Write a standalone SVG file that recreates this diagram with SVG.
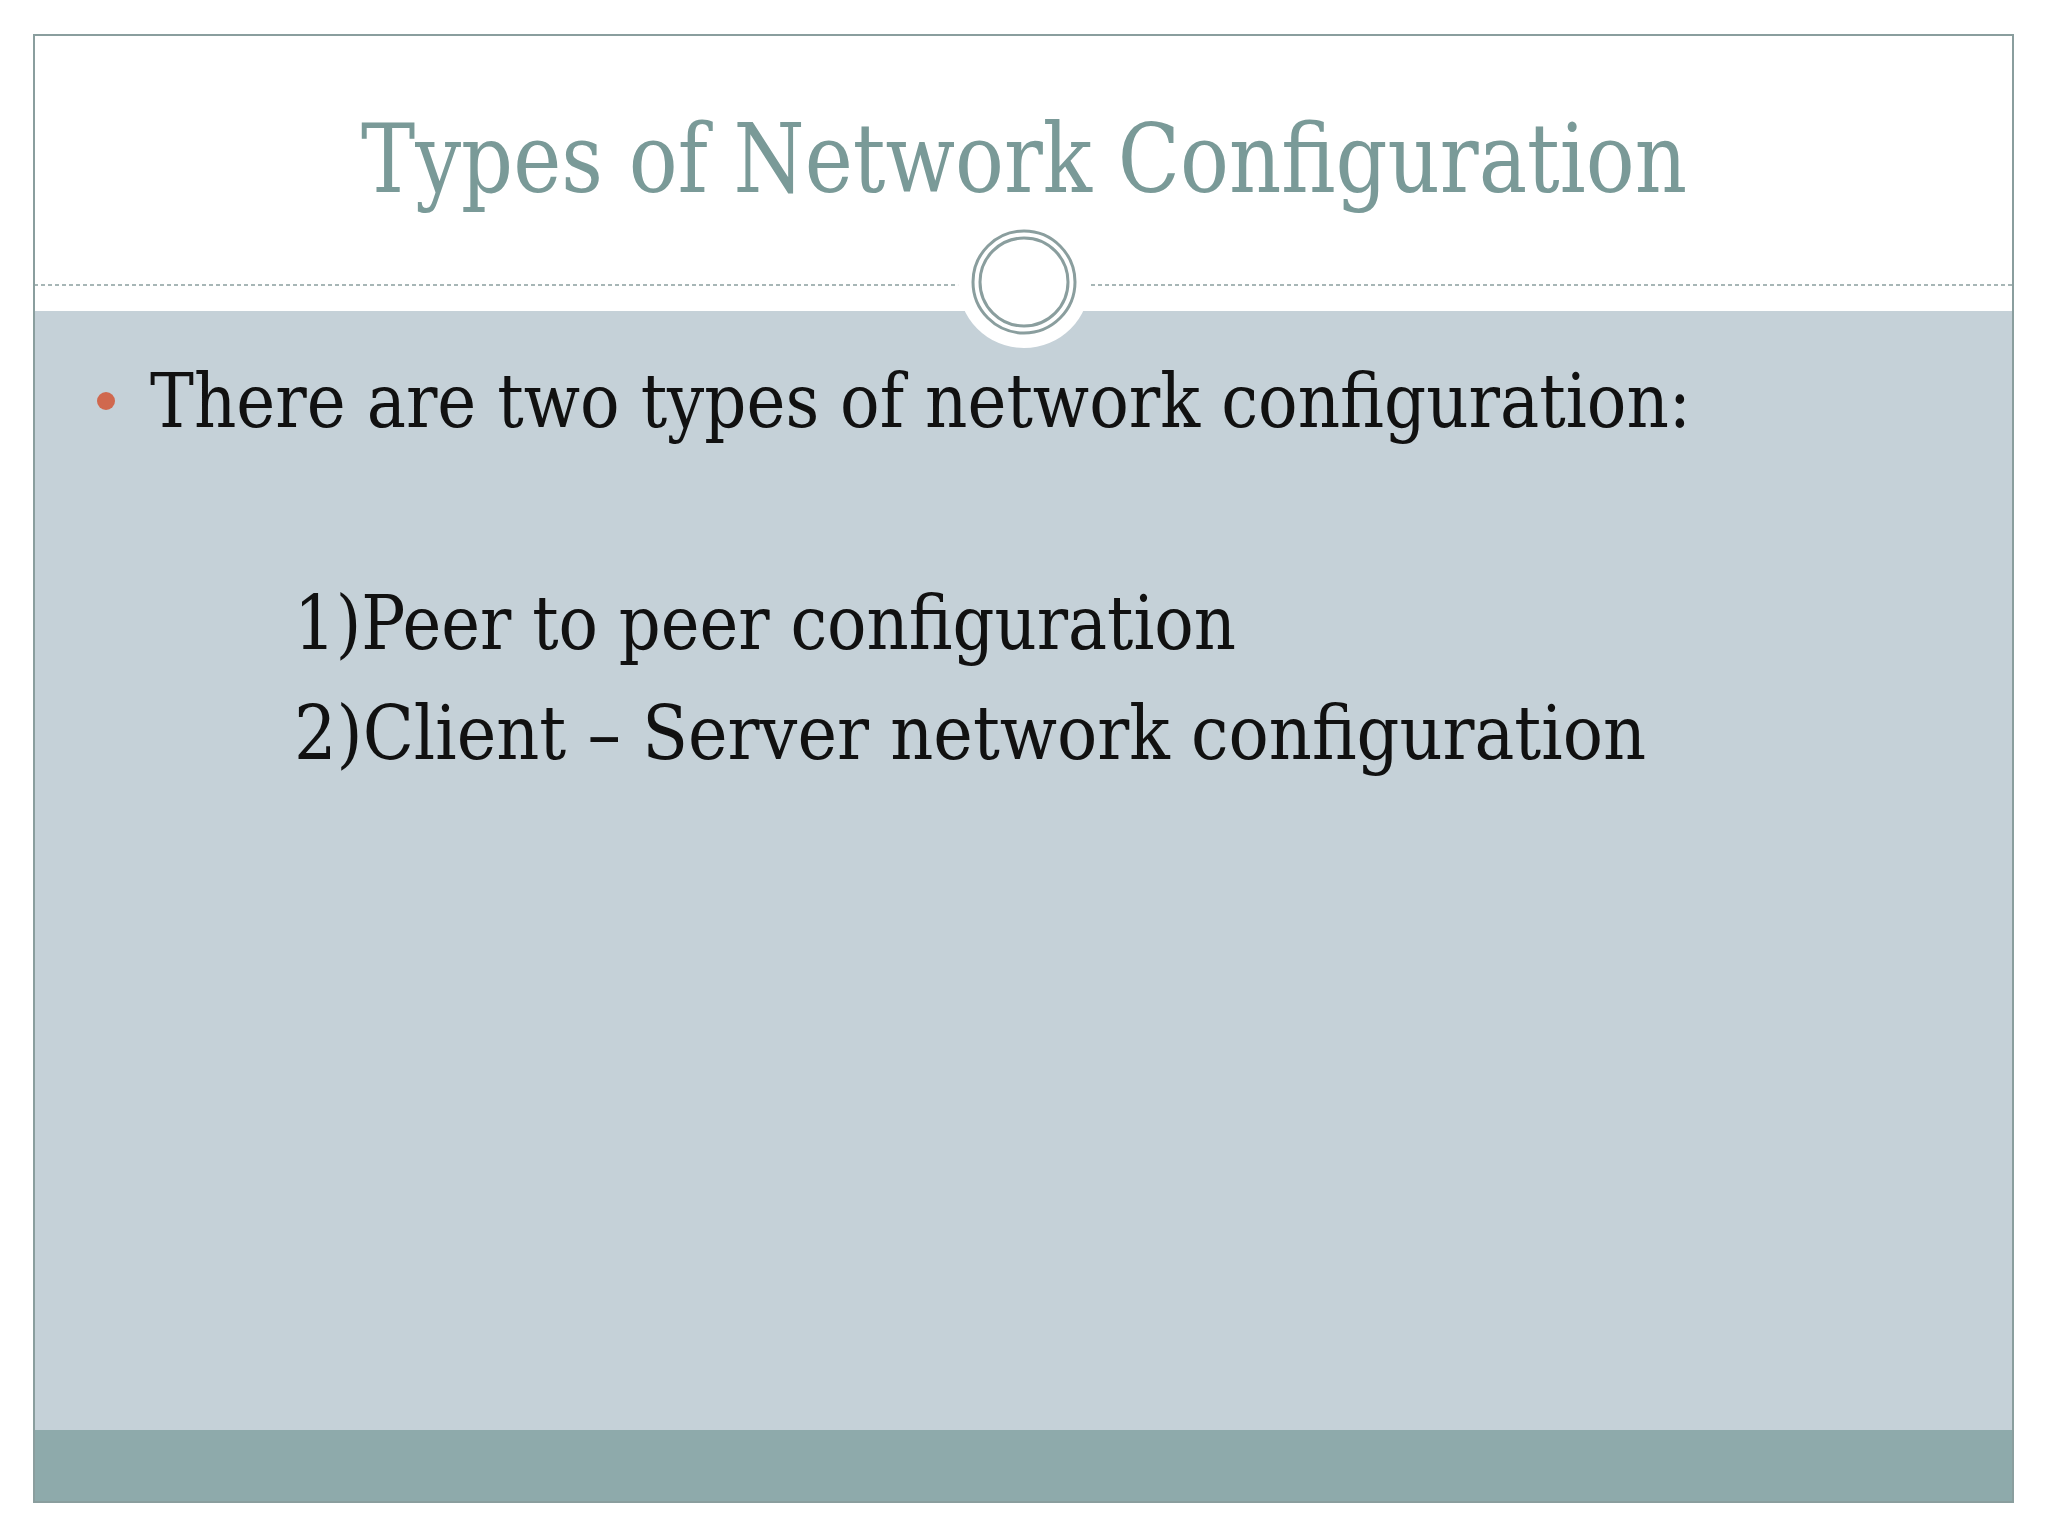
<svg xmlns="http://www.w3.org/2000/svg" width="2048" height="1536" viewBox="0 0 2048 1536">
<style>
.t{font-family:"DejaVu Serif","Liberation Serif",serif;}
.body{font-size:74px;fill:#111;}
</style>
<rect width="2048" height="1536" fill="#fff"/>
<g id="frame">
<rect x="34" y="311" width="1979" height="1119" fill="#c5d1d8"/>
<rect x="34" y="1430" width="1979" height="72" fill="#8eaaab"/>
<rect x="34" y="35" width="1979" height="1467" fill="none" stroke="#8a9e9e" stroke-width="2"/>
<line x1="34" y1="285" x2="2013" y2="285" stroke="#8a9e9e" stroke-width="1.5" stroke-dasharray="4,3"/>
<circle cx="1024" cy="282" r="66" fill="#fff"/>
<circle cx="1024" cy="282" r="51" fill="#fff" stroke="#8a9e9e" stroke-width="3"/>
<circle cx="1024" cy="282" r="44" fill="none" stroke="#8a9e9e" stroke-width="3"/>
</g>
<g id="title"><text class="t" x="1024" y="192" text-anchor="middle" font-size="96" fill="#7a9a98" textLength="1326" lengthAdjust="spacingAndGlyphs">Types of Network Configuration</text></g>
<g id="content">
<circle cx="106" cy="401" r="9" fill="#d0684e"/>
<text class="t body" x="150" y="427" textLength="1541" lengthAdjust="spacingAndGlyphs">There are two types of network configuration:</text>
<text class="t body" x="294" y="649" textLength="942" lengthAdjust="spacingAndGlyphs">1)Peer to peer configuration</text>
<text class="t body" x="294" y="759" textLength="1352" lengthAdjust="spacingAndGlyphs">2)Client – Server network configuration</text>
</g>
</svg>
